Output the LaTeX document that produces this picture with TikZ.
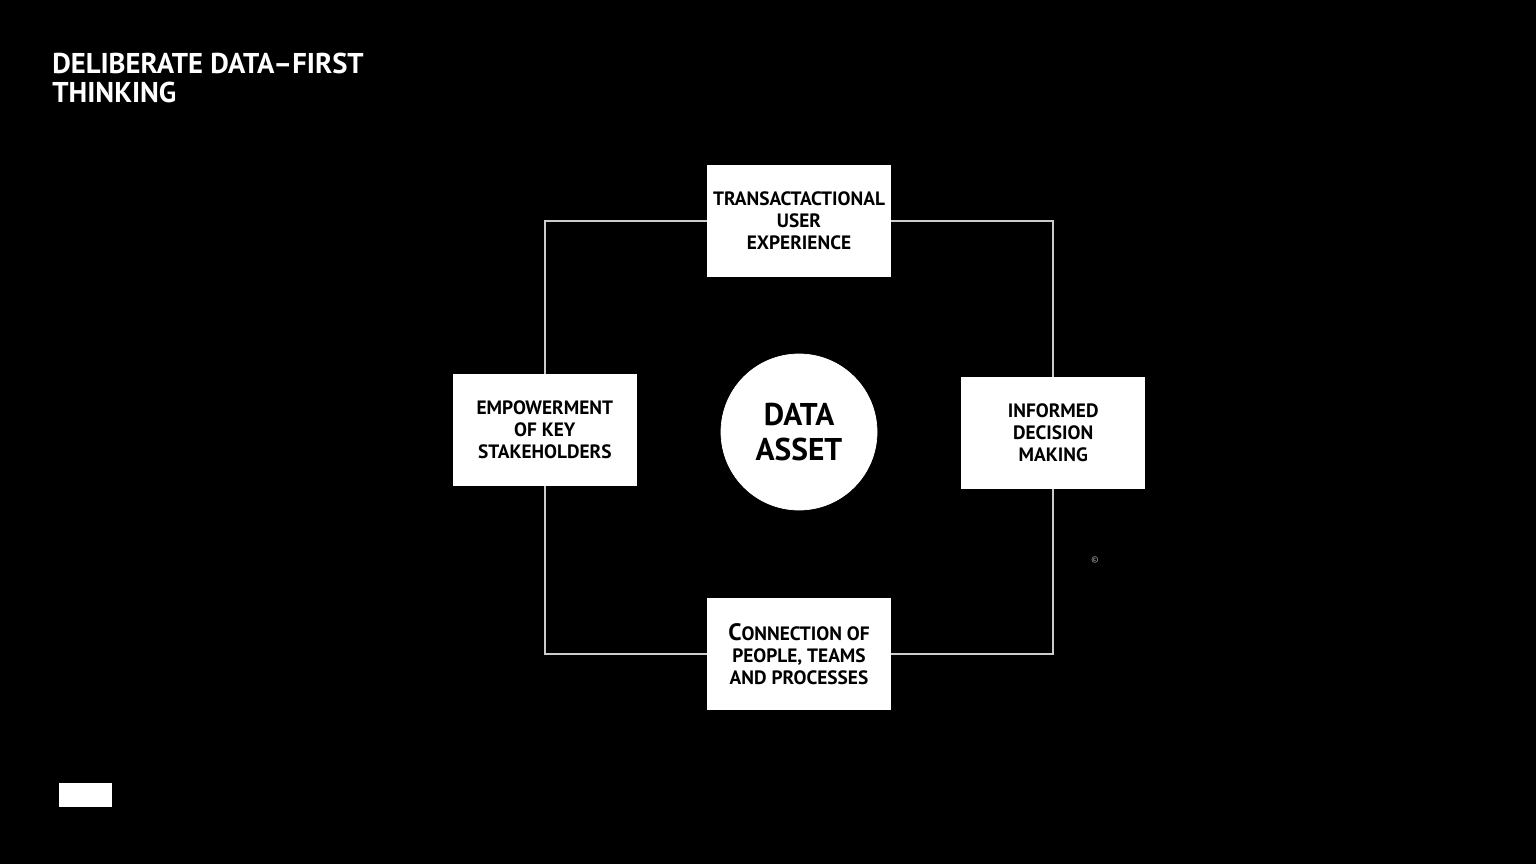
\documentclass[tikz,border=0pt]{standalone}
\usepackage{fontspec}
\setmainfont{PT Sans}
\usepackage{tikz}
\usetikzlibrary{positioning}
\usepackage{xcolor}

\begin{document}
\begin{tikzpicture}[
		boxnode/.style={rectangle, draw=white, fill=white, minimum width=3.66cm, minimum height=2.22cm, align=center, inner sep=1pt, font=\fontsize{11}{12.6}\selectfont\bfseries, text=black},
		assetnode/.style={circle, draw=white, fill=white, minimum size=3.12cm, align=center, inner sep=0pt, font=\fontsize{17.9}{20.4}\selectfont\bfseries, text=black},
		link/.style={draw=gray!40!white, line width=1pt},
		]
		% Background
		\fill[black] (0,0) rectangle (30.72,17.28);
		\useasboundingbox (0,0) rectangle (30.72,17.28);
		
		%Nodes
		\node[anchor=north west, inner sep=0pt, align=left, text=white, font=\fontsize{16.3}{16.6}\selectfont\bfseries] (title) at (1.04,16.22) {DELIBERATE DATA--FIRST\\THINKING};
		\node[assetnode]  (asset)                               at (15.98,8.64) {DATA\\ASSET};
		\node[boxnode]    (transact)  [above=1.54cm of asset]   {TRANSACTACTIONAL\\USER\\EXPERIENCE};
		\node[boxnode]    (connect)   [below=1.76cm of asset]   {{\fontsize{13.5}{12.6}\selectfont C}ONNECTION OF\\PEOPLE, TEAMS\\AND PROCESSES};
		\node[boxnode]    (empower)   [left=1.68cm of asset, yshift=0.04cm]    {EMPOWERMENT\\OF KEY\\STAKEHOLDERS};
		\node[boxnode]    (informed)  [right=1.68cm of asset, yshift=-0.02cm]  {INFORMED\\DECISION\\MAKING};
		\node[text=gray!60, inner sep=0pt, font=\fontsize{5}{5}\selectfont] (copy) at (21.9,6.08) {©};
		\node[rectangle, fill=white, minimum width=1.06cm, minimum height=0.48cm, inner sep=0pt, anchor=south west] (logo) at (1.18,1.14) {};
		
		%Lines
		\draw[link] (transact.west) -| (empower.north);
		\draw[link] (transact.east) -| (informed.north);
		\draw[link] (empower.south) |- (connect.west);
		\draw[link] (informed.south) |- (connect.east);
		
	\end{tikzpicture}
\end{document}
